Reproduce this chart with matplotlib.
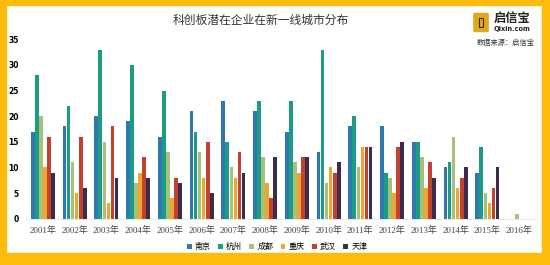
import matplotlib.pyplot as plt
import numpy as np
from matplotlib.patches import FancyBboxPatch, Rectangle

plt.rcParams['font.family'] = ['Noto Sans CJK SC', 'DejaVu Sans']

years = ["2001年", "2002年", "2003年", "2004年", "2005年", "2006年", "2007年", "2008年",
         "2009年", "2010年", "2011年", "2012年", "2013年", "2014年", "2015年", "2016年"]
cities = ["南京", "杭州", "成都", "重庆", "武汉", "天津"]
nanjing = [17, 18, 20, 19, 16, 21, 23, 21, 17, 13, 18, 18, 15, 10, 9, 0]
hangzhou = [28, 22, 33, 30, 25, 17, 15, 23, 23, 33, 20, 9, 15, 11, 14, 0]
chengdu = [20, 11, 15, 7, 13, 13, 10, 12, 11, 7, 10, 8, 12, 16, 5, 1]
chongqing = [10, 5, 3, 9, 4, 8, 8, 7, 9, 10, 14, 5, 6, 6, 3, 0]
wuhan = [16, 16, 18, 12, 8, 15, 13, 4, 12, 9, 14, 14, 11, 8, 6, 0]
tianjin = [9, 6, 8, 8, 7, 5, 9, 12, 12, 11, 14, 15, 8, 10, 10, 0]
series = [nanjing, hangzhou, chengdu, chongqing, wuhan, tianjin]
colors = ["#2f78b0", "#1c9c84", "#a6c27a", "#f0a52f", "#c2412f", "#3d2b4c"]

orange = "#fdbb0d"

fig = plt.figure(figsize=(5.5, 2.65), dpi=100)
fig.patch.set_facecolor("white")

# orange frame
fig.add_artist(Rectangle((0, 0), 1, 12 / 265, transform=fig.transFigure, color=orange, zorder=0))
fig.add_artist(Rectangle((0, 1 - 5 / 265), 1, 5 / 265, transform=fig.transFigure, color=orange, zorder=0))
fig.add_artist(Rectangle((0, 0), 6 / 550, 1, transform=fig.transFigure, color=orange, zorder=0))
fig.add_artist(Rectangle((1 - 8 / 550, 0), 8 / 550, 1, transform=fig.transFigure, color=orange, zorder=0))

ax = fig.add_axes([27 / 550, 46.3 / 265, 508 / 550, 179.4 / 265])
x = np.arange(len(years))
w = 0.127
for i, (vals, c) in enumerate(zip(series, colors)):
    ax.bar(x + (i - 2.5) * w, vals, width=w * 0.92, color=c, label=cities[i])

ax.set_xlim(-0.5, len(years) - 0.5)
ax.set_ylim(0, 35)
ax.set_yticks(range(0, 36, 5))
ax.tick_params(axis="y", length=0, pad=6, labelsize=5.5)
for lab in ax.get_yticklabels():
    lab.set_fontweight("bold")
    lab.set_family(["DejaVu Sans"])
ax.set_xticks(x)
ax.set_xticklabels(years, family=["Liberation Serif", "Noto Sans CJK SC"], fontsize=6.5, color="#444444")
ax.tick_params(axis="x", length=0, pad=5)
for s in ["top", "right", "left"]:
    ax.spines[s].set_visible(False)
ax.spines["bottom"].set_color("#e4e4e4")
ax.spines["bottom"].set_linewidth(0.6)

fig.text(0.474, 1 - 20 / 265, "科创板潜在企业在新一线城市分布", ha="center", va="center",
         fontsize=8.5, fontweight="medium", color="#333333")

# logo
fig.add_artist(FancyBboxPatch((475 / 550, 1 - 31 / 265), 12 / 550, 17 / 265,
                              boxstyle="round,pad=0.002", transform=fig.transFigure,
                              color="#e0a81c", zorder=2))
fig.add_artist(Rectangle((479 / 550, 1 - 27 / 265), 4 / 550, 9 / 265, transform=fig.transFigure,
                         fill=False, edgecolor="#3b2a10", lw=0.8, zorder=3))
fig.text(494 / 550, 1 - 18 / 265, "启信宝", fontsize=8.8, fontweight="bold", color="#222222",
         ha="left", va="center")
fig.text(494 / 550, 1 - 28.5 / 265, "Qixin.com", fontsize=4.8, fontweight="bold", color="#222222",
         ha="left", va="center", family=["DejaVu Sans"])
fig.text(535 / 550, 1 - 43 / 265, "数据来源：启信宝", fontsize=5.2, color="#333333",
         ha="right", va="center")

ax.legend(loc="center", bbox_to_anchor=(0.5 - 4 / 508, -28 / 179.4), ncol=6, frameon=False,
          handlelength=0.6, handleheight=0.6, handletextpad=0.4, columnspacing=0.9,
          prop={"family": ["Noto Sans CJK SC"], "size": 5.8})

fig.savefig("out.png", dpi=100, facecolor="white")
